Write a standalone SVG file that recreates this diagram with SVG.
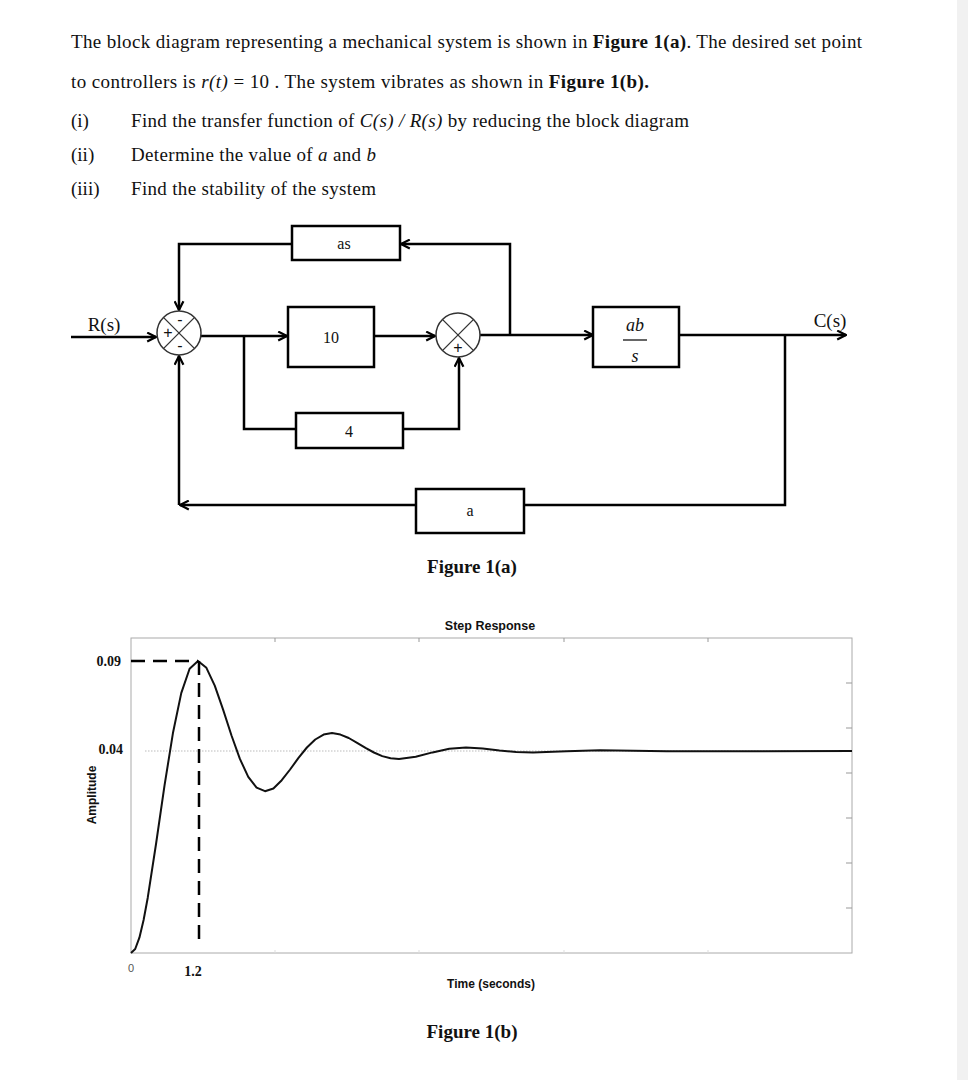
<svg xmlns="http://www.w3.org/2000/svg" width="968" height="1080" viewBox="0 0 968 1080">
<style>
.t{font-family:"Liberation Serif","Times New Roman",serif;font-size:19px;fill:#111}
.b{font-weight:bold}
.i{font-style:italic}
.blk{fill:#fff;stroke:#000;stroke-width:2.5}
.w{fill:none;stroke:#000;stroke-width:2.5}
.lbl{font-family:"Liberation Serif","Times New Roman",serif;font-size:16px;fill:#111;text-anchor:middle}
.sj{fill:#fff;stroke:#333;stroke-width:1.5}
.sx{stroke:#333;stroke-width:1.3}
.sg{font-family:"Liberation Sans",Arial,sans-serif;font-size:16px;fill:#111;text-anchor:middle;dominant-baseline:central}
.ax{font-family:"Liberation Sans",Arial,sans-serif;font-weight:bold;font-size:12px;fill:#111}
.tk{font-family:"Liberation Serif","Times New Roman",serif;font-weight:bold;font-size:14px;fill:#111}
</style>
<defs>
<marker id="arr" viewBox="0 0 10 10" refX="9" refY="5" markerWidth="11" markerHeight="11" markerUnits="userSpaceOnUse" orient="auto">
<path d="M1,1 L9,5 L1,9" fill="none" stroke="#000" stroke-width="2"/>
</marker>
</defs>
<rect x="0" y="0" width="968" height="1080" fill="#fff"/>
<rect x="957" y="0" width="11" height="1080" fill="#f1f1f1"/>

<g id="question">
<text class="t" x="71" y="48" textLength="791" lengthAdjust="spacing">The block diagram representing a mechanical system is shown in <tspan class="b">Figure 1(a)</tspan>. The desired set point</text>
<text class="t" x="71" y="88" textLength="578" lengthAdjust="spacing">to controllers is <tspan class="i">r(t)</tspan> = 10 . The system vibrates as shown in <tspan class="b">Figure 1(b).</tspan></text>
<text class="t" x="71" y="127">(i)</text>
<text class="t" x="131" y="127" textLength="558" lengthAdjust="spacing">Find the transfer function of <tspan class="i">C(s) / R(s)</tspan> by reducing the block diagram</text>
<text class="t" x="71" y="161">(ii)</text>
<text class="t" x="131" y="161" textLength="245" lengthAdjust="spacing">Determine the value of <tspan class="i">a</tspan> and <tspan class="i">b</tspan></text>
<text class="t" x="71" y="195">(iii)</text>
<text class="t" x="131" y="195" textLength="245" lengthAdjust="spacing">Find the stability of the system</text>
</g>

<g id="connectors">
<path class="w" d="M71,337 L156,337" marker-end="url(#arr)"/>
<path class="w" d="M201,336 L287,336" marker-end="url(#arr)"/>
<path class="w" d="M244,336 L244,429 L296,429"/>
<path class="w" d="M374,336 L435,336" marker-end="url(#arr)"/>
<path class="w" d="M403,429 L459,429 L459,358" marker-end="url(#arr)"/>
<path class="w" d="M480,335 L593,335" marker-end="url(#arr)"/>
<path class="w" d="M510,335 L510,244 L401,244" marker-end="url(#arr)"/>
<path class="w" d="M292,244 L179,244 L179,310" marker-end="url(#arr)"/>
<path class="w" d="M679,335 L846,335" marker-end="url(#arr)"/>
<path class="w" d="M785,335 L785,505 L524,505"/>
<path class="w" d="M416,505 L180,505" marker-end="url(#arr)"/>
<path class="w" d="M179,505 L179,356" marker-end="url(#arr)"/>
</g>

<g id="Rs"><text class="t" x="104" y="331" text-anchor="middle">R(s)</text></g>
<g id="Cs"><text class="t" x="830" y="327" text-anchor="middle">C(s)</text></g>

<g id="sum1">
<circle class="sj" cx="179" cy="333" r="22"/>
<line class="sx" x1="163.4" y1="317.4" x2="194.6" y2="348.6"/>
<line class="sx" x1="194.6" y1="317.4" x2="163.4" y2="348.6"/>
<text class="sg" x="168" y="332">+</text>
<text class="sg" x="180" y="319">-</text>
<text class="sg" x="180" y="345">-</text>
</g>

<g id="sum2">
<circle class="sj" cx="458" cy="335" r="22"/>
<line class="sx" x1="442.4" y1="319.4" x2="473.6" y2="350.6"/>
<line class="sx" x1="473.6" y1="319.4" x2="442.4" y2="350.6"/>
<text class="sg" x="458" y="347">+</text>
</g>

<g id="as"><rect class="blk" x="292" y="226" width="108" height="34"/><text class="lbl" x="344" y="249">as</text></g>
<g id="g10"><rect class="blk" x="288" y="307" width="86" height="60"/><text class="lbl" x="331" y="343">10</text></g>
<g id="g4"><rect class="blk" x="296" y="413" width="107" height="35"/><text class="lbl" x="349" y="437">4</text></g>
<g id="abs"><rect class="blk" x="593" y="307" width="86" height="60"/>
<text class="lbl i" x="635" y="331" style="font-size:18px">ab</text>
<line x1="623" y1="340" x2="647" y2="340" stroke="#000" stroke-width="1.2"/>
<text class="lbl i" x="635" y="362" style="font-size:18px">s</text></g>
<g id="ga"><rect class="blk" x="416" y="489" width="108" height="44"/><text class="lbl" x="470" y="516">a</text></g>

<g id="fig1a"><text class="t b" x="472" y="573" text-anchor="middle">Figure 1(a)</text></g>

<g id="plot">
<text class="ax" x="490" y="630" text-anchor="middle" style="font-size:12.5px">Step Response</text>
<rect x="131" y="638" width="721" height="315" fill="none" stroke="#aaa" stroke-width="1"/>
<g stroke="#999" stroke-width="1">
<line x1="275" y1="638" x2="275" y2="642"/><line x1="419" y1="638" x2="419" y2="642"/>
<line x1="564" y1="638" x2="564" y2="642"/><line x1="708" y1="638" x2="708" y2="642"/>
<line x1="275" y1="953" x2="275" y2="950" stroke="#ddd"/><line x1="419" y1="953" x2="419" y2="950" stroke="#ddd"/>
<line x1="564" y1="953" x2="564" y2="950" stroke="#ddd"/><line x1="708" y1="953" x2="708" y2="950" stroke="#ddd"/>
<line x1="852" y1="683" x2="846" y2="683"/><line x1="852" y1="728" x2="846" y2="728"/>
<line x1="852" y1="773" x2="846" y2="773"/><line x1="852" y1="818" x2="846" y2="818"/>
<line x1="852" y1="863" x2="846" y2="863"/><line x1="852" y1="908" x2="846" y2="908"/>
</g>
<line x1="145" y1="751" x2="852" y2="751" stroke="#bbb" stroke-width="1" stroke-dasharray="1.5,1.5"/>
<polyline fill="none" stroke="#111" stroke-width="2" stroke-linejoin="round" points="131,953 135.2,949 139.4,937.7 143.6,920 147.75,897.7 156.1,843.5 164.5,785.7 172.9,733.3 181.25,693.1 189.6,668.7 198,660.9 206.4,667.8 214.75,685.6 223.1,709.7 231.5,735.5 239.9,758.9 248.25,776.8 256.6,787.7 265,791.2 273.4,788.5 281.75,780.2 290.1,769.5 298.5,757.9 306.9,747.5 315.25,739.5 323.6,734.6 332,733.1 340.4,734.6 348.75,738 357.1,742.8 365.5,747.9 373.9,752.5 382.25,756.1 390.6,758.3 399,759 415.75,756.8 432.5,752.4 449.25,748.7 466,747.4 482.75,748.4 499.5,750.4 516.25,752 533,752.6 566.5,751.3 600,750.3 667,751.3 852,751"/>
<path d="M131,661 L198,661 M199,661 L199,946" fill="none" stroke="#000" stroke-width="2.5" stroke-dasharray="14,8"/>
<text class="tk" x="121" y="666" text-anchor="end">0.09</text>
<text class="tk" x="123" y="754" text-anchor="end">0.04</text>
<text x="131" y="972" text-anchor="middle" style="font-family:'Liberation Sans',Arial,sans-serif;font-size:11px;fill:#555">0</text>
<text class="tk" x="193" y="976" text-anchor="middle">1.2</text>
<text class="ax" x="0" y="0" text-anchor="middle" transform="translate(96,795) rotate(-90)">Amplitude</text>
<text class="ax" x="491" y="988" text-anchor="middle">Time (seconds)</text>
</g>

<g id="fig1b"><text class="t b" x="472" y="1038" text-anchor="middle">Figure 1(b)</text></g>
</svg>
